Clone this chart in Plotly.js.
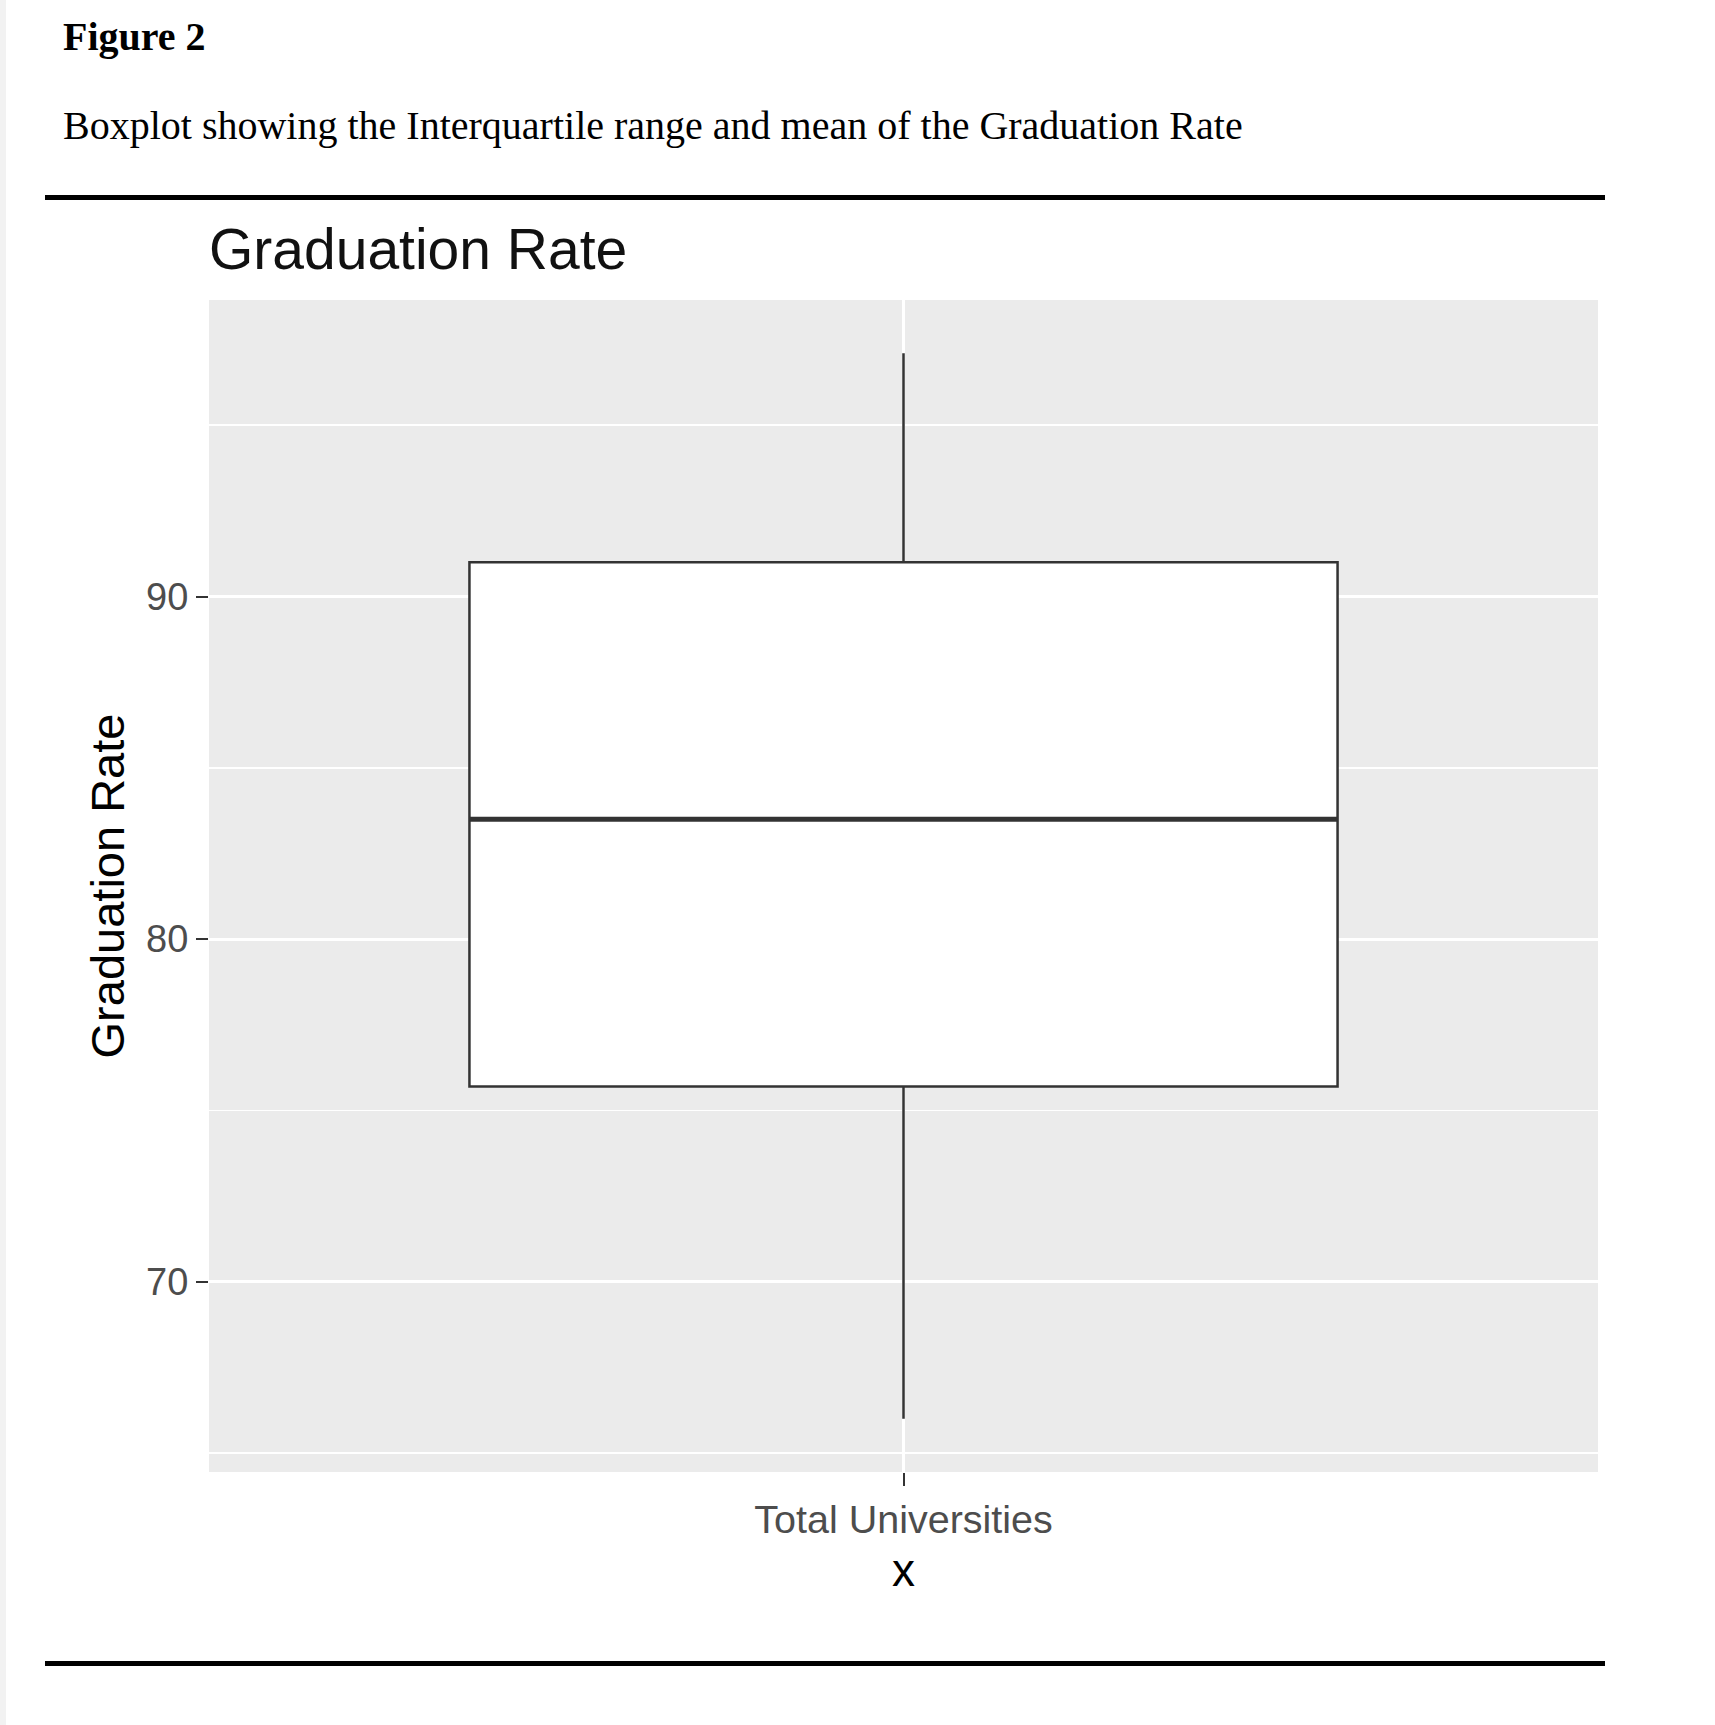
<!DOCTYPE html>
<html>
<head>
<meta charset="utf-8">
<script src="https://cdn.plot.ly/plotly-3.0.1.min.js"></script>
<style>
  html, body { margin: 0; padding: 0; background: #ffffff; }
  #chart { width: 1715px; height: 1725px; }
</style>
</head>
<body>
<div id="chart"></div>
<script>
// ---- Data ----
const categories = ['Total Universities'];
const lowerFence = [66.0];
const q1Values = [75.7];
const medianValues = [83.5];
const q3Values = [91.0];
const upperFence = [97.1];
const yTickValues = [70, 80, 90];
const yMinorValues = [65, 75, 85, 95];

const figureLabel = 'Figure 2';
const figureCaption = 'Boxplot showing the Interquartile range and mean of the Graduation Rate';
const chartTitle = 'Graduation Rate';
const xTitle = 'x';
const yTitle = 'Graduation Rate';

// ---- Layout geometry ----
const W = 1715, H = 1725;
const L = 209, R = 1598, T = 300, B = 1472;
const px2x = p => (p - L) / (R - L);
const py2y = p => (B - p) / (B - T);

const boxWidth = 0.75;
const dataMin = Math.min(...lowerFence), dataMax = Math.max(...upperFence);
const span = dataMax - dataMin;
const yRange = [dataMin - 0.05 * span, dataMax + 0.05 * span];

const darkLine = '#333333';
const sansFont = 'Liberation Sans, Arial, Helvetica, sans-serif';
const serifFont = 'Liberation Serif, Times New Roman, serif';

const trace = {
  type: 'box',
  x: categories,
  q1: q1Values,
  median: medianValues,
  q3: q3Values,
  lowerfence: lowerFence,
  upperfence: upperFence,
  width: boxWidth,
  whiskerwidth: 0,
  fillcolor: '#ffffff',
  line: { color: darkLine, width: 2.5 },
  boxpoints: false,
  hoverinfo: 'skip',
  showlegend: false
};

const shapes = [
  // thicker median line, like ggplot's fatten
  {
    type: 'line', xref: 'x', yref: 'y', layer: 'above',
    x0: -boxWidth / 2, x1: boxWidth / 2,
    y0: medianValues[0], y1: medianValues[0],
    line: { color: darkLine, width: 5 }
  },
  // document rules
  {
    type: 'line', xref: 'paper', yref: 'paper',
    x0: px2x(45), x1: px2x(1605), y0: py2y(197.5), y1: py2y(197.5),
    line: { color: '#000000', width: 5 }
  },
  {
    type: 'line', xref: 'paper', yref: 'paper',
    x0: px2x(45), x1: px2x(1605), y0: py2y(1663.5), y1: py2y(1663.5),
    line: { color: '#000000', width: 5 }
  },
  // faint page edge at left
  {
    type: 'rect', xref: 'paper', yref: 'paper',
    x0: px2x(0), x1: px2x(6), y0: py2y(H), y1: py2y(0),
    fillcolor: '#f2f2f2', line: { width: 0 }, layer: 'below'
  }
];

const annotations = [
  {
    xref: 'paper', yref: 'paper', x: px2x(61), y: py2y(36),
    xanchor: 'left', yanchor: 'middle', showarrow: false,
    text: '<b>' + figureLabel + '</b>',
    font: { family: serifFont, size: 40, color: '#000000' }
  },
  {
    xref: 'paper', yref: 'paper', x: px2x(61), y: py2y(126),
    xanchor: 'left', yanchor: 'middle', showarrow: false,
    text: figureCaption,
    font: { family: serifFont, size: 40, color: '#000000' }
  }
];

const layout = {
  width: W, height: H,
  margin: { l: L, r: W - R, t: T, b: H - B, pad: 0 },
  paper_bgcolor: '#ffffff',
  plot_bgcolor: '#EBEBEB',
  showlegend: false,
  font: { family: sansFont },
  title: {
    text: chartTitle,
    font: { family: sansFont, size: 57, color: '#111111' },
    xref: 'paper', x: 0, xanchor: 'left',
    yref: 'container', y: 1 - 249 / H, yanchor: 'middle',
    pad: { l: 0, r: 0, t: 0, b: 0 }
  },
  xaxis: {
    type: 'category',
    range: [-0.6, 0.6],
    showgrid: true, gridcolor: '#ffffff', gridwidth: 3,
    zeroline: false, showline: false,
    ticks: 'outside', ticklen: 13, tickwidth: 2, tickcolor: darkLine,
    tickfont: { family: sansFont, size: 39.5, color: '#4D4D4D' },
    title: { text: xTitle, font: { family: sansFont, size: 46, color: '#000000' }, standoff: 13 },
    fixedrange: true
  },
  yaxis: {
    range: yRange,
    tickvals: yTickValues,
    showgrid: true, gridcolor: '#ffffff', gridwidth: 3,
    minor: { tickvals: yMinorValues, showgrid: true, gridcolor: '#ffffff', gridwidth: 1.5, ticks: '' },
    zeroline: false, showline: false,
    ticks: 'outside', ticklen: 12, tickwidth: 2, tickcolor: darkLine,
    tickfont: { family: sansFont, size: 38, color: '#4D4D4D' },
    title: { text: yTitle, font: { family: sansFont, size: 47, color: '#000000' }, standoff: 6 },
    fixedrange: true
  },
  shapes: shapes,
  annotations: annotations
};

Plotly.newPlot('chart', [trace], layout, { displayModeBar: false, staticPlot: true });
</script>
</body>
</html>
